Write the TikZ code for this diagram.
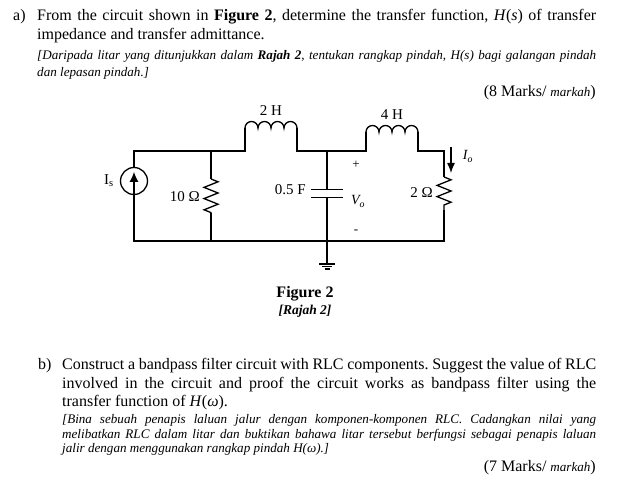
\documentclass[tikz,border=0pt]{standalone}
\usepackage{fontspec}
\setmainfont{Liberation Serif}
\usetikzlibrary{positioning, arrows.meta, decorations.pathmorphing}

\frenchspacing
\newcommand{\fitline}[2]{\makebox[#1pt][s]{#2}}

\tikzset{
  wire/.style={line width=1.3pt},
  resistor/.style={line width=1.3pt, decorate, decoration={zigzag, segment length=11.2pt, amplitude=7pt}},
  bodyline/.style={anchor=base west, inner sep=0pt, font=\fontsize{16}{18}\selectfont},
  noteline/.style={anchor=base west, inner sep=0pt, font=\fontsize{13.1}{15}\selectfont\itshape},
  marks/.style={anchor=base east, inner sep=0pt, font=\fontsize{16}{18}\selectfont},
  complabel/.style={inner sep=0pt, font=\fontsize{15}{17}\selectfont}
}

\begin{document}
\begin{tikzpicture}[x=1pt, y=-1pt]
  \useasboundingbox (0,0) rectangle (632,489);

  % Question a
  \node (alabel) [bodyline] at (13,21) {a)};
  \node (aone) [bodyline] at (37,21) {\fitline{559}{From the circuit shown in \textbf{Figure 2}, determine the transfer function, \textit{H}(\textit{s}) of transfer}};
  \node (atwo) [bodyline] at (37,40) {impedance and transfer admittance.};
  \node (anoteone) [noteline] at (37,60) {\fitline{559}{[Daripada litar yang ditunjukkan dalam \textbf{Rajah 2}, tentukan rangkap pindah, H(s) bagi galangan pindah}};
  \node (anotetwo) [noteline] at (37,77) {dan lepasan pindah.]};
  \node (amarks) [marks] at (596,97) {(8 Marks/ {\fontsize{13.1}{15}\selectfont\itshape markah})};

  % Nodes
  \node (source) [circle, draw, line width=1.3pt, minimum size=27pt, inner sep=0pt] at (134,181) {};
  \coordinate (topleft) at (134,151);
  \coordinate (botleft) at (134,241);
  \coordinate (rtentop) at (211,151);
  \coordinate (rtena) at (211,179);
  \coordinate (rtenb) at (211,213);
  \coordinate (rtenbot) at (211,241);
  \coordinate (ltwoa) at (245,151);
  \coordinate (ltwob) at (245,128);
  \coordinate (ltwoc) at (297,128);
  \coordinate (ltwod) at (297,151);
  \coordinate (captop) at (327,151);
  \coordinate (capa) at (327,189.5);
  \coordinate (capb) at (327,197.5);
  \coordinate (capbot) at (327,241);
  \coordinate (gnd) at (327,264);
  \coordinate (lfoura) at (366,151);
  \coordinate (lfourb) at (366,132);
  \coordinate (lfourc) at (418,132);
  \coordinate (lfourd) at (418,151);
  \coordinate (topright) at (444,151);
  \coordinate (rtwoa) at (444,177);
  \coordinate (rtwob) at (444,210);
  \coordinate (botright) at (444,241);
  \coordinate (arrowtop) at (451,147);
  \coordinate (arrowbot) at (451,173);

  % Labels
  \node (islabel) [complabel, left=6pt of source] {I\textsubscript{s}};
  \node (rtenlabel) [complabel, anchor=base east] at (200,202) {10 Ω};
  \node (ltwolabel) [complabel, above=12pt of ltwob, xshift=26pt] {2 H};
  \node (lfourlabel) [complabel, above=12pt of lfourb, xshift=26pt] {4 H};
  \node (caplabel) [complabel, anchor=base east] at (306,195) {0.5 F};
  \node (plus) [complabel, font=\fontsize{13}{15}\selectfont] at (356,165) {+};
  \node (volabel) [complabel, font=\fontsize{14}{16}\selectfont\itshape, anchor=base] at (358,205) {V\textsubscript{o}};
  \node (minus) [complabel, font=\fontsize{13}{15}\selectfont] at (356,232) {-};
  \node (rtwolabel) [complabel, anchor=base east] at (433,198) {2 Ω};
  \node (iolabel) [complabel, font=\fontsize{14}{16}\selectfont\itshape, anchor=base] at (468,160) {I\textsubscript{o}};
  \node (figlabel) [inner sep=0pt, anchor=base, font=\fontsize{16}{18}\selectfont\bfseries] at (305,297) {Figure 2};
  \node (rajahlabel) [inner sep=0pt, anchor=base, font=\fontsize{13.5}{15}\selectfont\bfseries\itshape] at (305,314) {[Rajah 2]};

  % Wires
  \draw[wire] (source) -- (topleft) -- (rtentop) -- (ltwoa) -- (ltwob);
  \draw[wire] (ltwob) \foreach \hump in {1,2,3,4} {arc[start angle=180, end angle=0, radius=6.5pt]};
  \draw[wire] (ltwoc) -- (ltwod) -- (captop) -- (lfoura) -- (lfourb);
  \draw[wire] (lfourb) \foreach \hump in {1,2,3,4} {arc[start angle=180, end angle=0, radius=6.5pt]};
  \draw[wire] (lfourc) -- (lfourd) -- (topright) -- (rtwoa);
  \draw[resistor] (rtwoa) -- (rtwob);
  \draw[wire] (rtwob) -- (botright) -- (capbot) -- (rtenbot) -- (botleft) -- (source);
  \draw[wire] (rtentop) -- (rtena);
  \draw[resistor] (rtena) -- (rtenb);
  \draw[wire] (rtenb) -- (rtenbot);
  \draw[wire] (captop) -- (capa);
  \draw[wire] (capb) -- (gnd);

  % Capacitor and ground
  \draw[wire] ([xshift=-16pt]capa) -- ([xshift=16pt]capa);
  \draw[wire] ([xshift=-16pt]capb) -- ([xshift=16pt]capb);
  \draw[wire] ([xshift=-8pt]gnd) -- ([xshift=8pt]gnd);
  \draw[wire] ([xshift=-5pt, yshift=-2.5pt]gnd) -- ([xshift=5pt, yshift=-2.5pt]gnd);
  \draw[wire] ([xshift=-2.5pt, yshift=-5pt]gnd) -- ([xshift=2.5pt, yshift=-5pt]gnd);

  % Arrows
  \draw[-{Latex[length=10pt, width=9pt]}, wire] (source.south) -- ([yshift=-5pt]source.north);
  \draw[-{Latex[length=10pt, width=8pt]}, wire] (arrowtop) -- (arrowbot);

  % Question b
  \node (blabel) [bodyline] at (38,369) {b)};
  \node (bone) [bodyline] at (62,369) {\fitline{534}{Construct a bandpass filter circuit with RLC components. Suggest the value of RLC}};
  \node (btwo) [bodyline] at (62,388) {\fitline{534}{involved in the circuit and proof the circuit works as bandpass filter using the}};
  \node (bthree) [bodyline] at (62,406) {transfer function of \textit{H}(\textit{ω}).};
  \node (bnoteone) [noteline] at (62,423) {\fitline{534}{[Bina sebuah penapis laluan jalur dengan komponen-komponen RLC. Cadangkan nilai yang}};
  \node (bnotetwo) [noteline] at (62,438) {\fitline{534}{melibatkan RLC dalam litar dan buktikan bahawa litar tersebut berfungsi sebagai penapis laluan}};
  \node (bnotethree) [noteline] at (62,452) {jalir dengan menggunakan rangkap pindah H(ω).]};
  \node (bmarks) [marks] at (596,471) {(7 Marks/ {\fontsize{13.1}{15}\selectfont\itshape markah})};
\end{tikzpicture}
\end{document}
